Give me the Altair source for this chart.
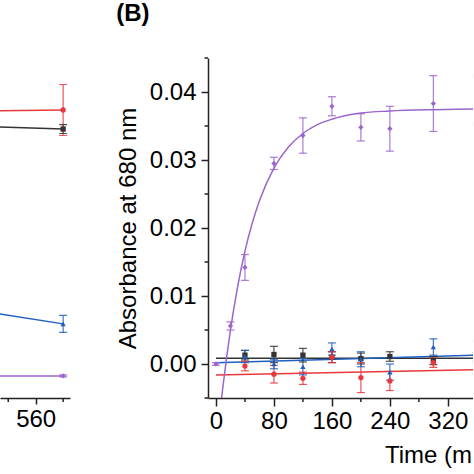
import altair as alt
import pandas as pd

FONT = "Liberation Sans"

# ---------------- series styling ----------------
series_names = ["black", "red", "blue", "purple"]
series_colors = ["#333333", "#E8383D", "#1F5FBF", "#9A66CC"]
series_shapes = ["square", "circle", "triangle-up", "diamond"]

# ---------------- Panel B data ----------------
b_times_purple = [0, 20, 40, 80, 120, 160, 200, 240, 300, 360]
b_purple = [0.0000, 0.0056, 0.0142, 0.0295, 0.0336, 0.0379, 0.0348, 0.0346, 0.0383, 0.0388]
b_purple_err = [0.0002, 0.0006, 0.0019, 0.0009, 0.0026, 0.0014, 0.0020, 0.0033, 0.0041, 0.0035]

b_times = [40, 80, 120, 160, 200, 240, 300, 360]
b_black = [0.0013, 0.0014, 0.0013, 0.0010, 0.0008, 0.0011, 0.0005, 0.0009]
b_black_err = [0.0007, 0.0012, 0.0010, 0.0008, 0.0008, 0.0007, 0.0006, 0.0008]
b_blue = [0.0011, 0.0000, -0.0004, 0.0022, 0.0007, -0.0012, 0.0025, 0.0022]
b_blue_err = [0.0009, 0.0007, 0.0012, 0.0009, 0.0011, 0.0012, 0.0012, 0.0012]
b_red = [-0.0003, -0.0015, -0.0021, 0.0010, -0.0020, -0.0025, 0.0002, -0.0005]
b_red_err = [0.0007, 0.0013, 0.0009, 0.0008, 0.0022, 0.0014, 0.0007, 0.0010]

# fitted curves
purple_fit_t = [7.7, 10, 15, 20, 30, 40, 50, 60, 80, 100, 120, 140, 160, 200, 240, 300, 360, 420]
purple_fit_v = [-0.0050, -0.0030, 0.0012, 0.0050, 0.0114, 0.0166, 0.0207, 0.0240, 0.0288, 0.0319,
                0.0339, 0.0352, 0.0360, 0.0369, 0.0372, 0.0374, 0.0375, 0.0375]
lin_fit_t = [0, 420]
black_fit_v = [0.00085, 0.00085]
blue_fit_v = [0.0002, 0.0015]
red_fit_v = [-0.0016, -0.0007]

b_major_x = [0, 80, 160, 240, 320]
b_minor_x = [40, 120, 200, 280]
b_major_y = [0.00, 0.01, 0.02, 0.03, 0.04]
b_minor_y = [-0.005, 0.005, 0.015, 0.025, 0.035, 0.045]
x_title = ["Time (min)"]

# ---------------- Panel A data (visible right part) ----------------
a_times = [480, 600]
a_black = [0.799, 0.791]
a_black_err = [0.010, 0.013]
a_red = [0.844, 0.847]
a_red_err = [0.030, 0.075]
a_blue = [0.256, 0.218]
a_blue_err = [0.020, 0.025]
a_purple = [0.065, 0.065]
a_purple_err = [0.003, 0.003]
a_major_x = [560]
a_minor_x = [520, 600]


def long_df(times, vals, errs, name):
    return pd.DataFrame({
        "t": times, "v": vals,
        "lo": [v - e for v, e in zip(vals, errs)],
        "hi": [v + e for v, e in zip(vals, errs)],
        "s": [name] * len(times),
    })


color_enc = alt.Color("s:N", scale=alt.Scale(domain=series_names, range=series_colors), legend=None)
shape_enc = alt.Shape("s:N", scale=alt.Scale(domain=series_names, range=series_shapes), legend=None)

PH = 340  # plot height
BW = 265  # panel B plot width (runs to the window edge)
FS = 24   # axis font size

# ---------------- Panel B ----------------
b_pts = pd.concat([
    long_df(b_times, b_black, b_black_err, "black"),
    long_df(b_times, b_red, b_red_err, "red"),
    long_df(b_times, b_blue, b_blue_err, "blue"),
    long_df(b_times_purple, b_purple, b_purple_err, "purple"),
])
b_fit = pd.concat([
    pd.DataFrame({"t": lin_fit_t, "v": black_fit_v, "s": "black"}),
    pd.DataFrame({"t": lin_fit_t, "v": red_fit_v, "s": "red"}),
    pd.DataFrame({"t": lin_fit_t, "v": blue_fit_v, "s": "blue"}),
    pd.DataFrame({"t": purple_fit_t, "v": purple_fit_v, "s": "purple"}),
])

b_xscale = alt.Scale(domain=[-11, -11 + BW / 0.7246], nice=False, zero=False)
b_yscale = alt.Scale(domain=[-0.005, 0.045], nice=False, zero=False)
b_xaxis = alt.Axis(values=b_major_x, format="d", title=None, tickSize=8,
                   labelPadding=3, labelFlush=False, labelOverlap=False)
b_yaxis = alt.Axis(values=b_major_y, format=".2f", title="Absorbance at 680 nm", tickSize=7,
                   labelPadding=5, titlePadding=9, labelOverlap=False)


def bx(f):
    return alt.X(f"{f}:Q", scale=b_xscale, axis=b_xaxis)


def by(f):
    return alt.Y(f"{f}:Q", scale=b_yscale, axis=b_yaxis)


b_fit_lines = alt.Chart(b_fit).mark_line(strokeWidth=1.5, interpolate="monotone", clip=True).encode(
    x=bx("t"), y=by("v"), color=color_enc, detail="s:N")
b_err = alt.Chart(b_pts).mark_rule(strokeWidth=1.2, opacity=0.85, clip=True).encode(
    x=bx("t"), y=by("lo"), y2="hi", color=color_enc)
b_cap_lo = alt.Chart(b_pts).mark_tick(orient="horizontal", size=8, thickness=1.2, opacity=0.85, clip=True).encode(
    x=bx("t"), y=by("lo"), color=color_enc)
b_cap_hi = alt.Chart(b_pts).mark_tick(orient="horizontal", size=8, thickness=1.2, opacity=0.85, clip=True).encode(
    x=bx("t"), y=by("hi"), color=color_enc)
b_points = alt.Chart(b_pts).mark_point(filled=True, opacity=1, size=28, clip=True).encode(
    x=bx("t"), y=by("v"), color=color_enc, shape=shape_enc)
b_minx = alt.Chart(pd.DataFrame({"t": b_minor_x})).mark_rule(color="#222222", strokeWidth=1.5).encode(
    x=bx("t"), y=alt.value(PH), y2=alt.value(PH + 4))
b_miny = alt.Chart(pd.DataFrame({"v": b_minor_y})).mark_rule(color="#222222", strokeWidth=1.5).encode(
    y=by("v"), x=alt.value(0), x2=alt.value(-3.5))
# x-axis title, cut by the right edge of the figure as in the original
b_xtitle = alt.Chart(pd.DataFrame({"label": x_title})).mark_text(
    font=FONT, fontSize=FS, align="left", baseline="alphabetic", color="#000000",
    limit=89, ellipsis="\u200b").encode(
    text="label:N", x=alt.value(177), y=alt.value(PH + 65))

panel_b = alt.layer(b_fit_lines, b_err, b_cap_lo, b_cap_hi, b_points, b_minx, b_miny, b_xtitle).properties(
    width=BW, height=PH,
    title=alt.TitleParams("(B)", anchor="start", frame="bounds", fontSize=24, fontWeight="bold",
                          font=FONT, baseline="alphabetic", offset=12, color="#000000"),
)

# ---------------- Panel A ----------------
a_pts = pd.concat([
    long_df(a_times, a_black, a_black_err, "black"),
    long_df(a_times, a_red, a_red_err, "red"),
    long_df(a_times, a_blue, a_blue_err, "blue"),
    long_df(a_times, a_purple, a_purple_err, "purple"),
])

a_xscale = alt.Scale(domain=[508, 610], nice=False, zero=False)
a_yscale = alt.Scale(domain=[0, 1], nice=False, zero=False)
a_xaxis = alt.Axis(values=a_major_x, format="d", title=None, tickSize=6,
                   labelPadding=3, labelFlush=False, labelOverlap=False)


def ax(f):
    return alt.X(f"{f}:Q", scale=a_xscale, axis=a_xaxis)


def ay(f):
    return alt.Y(f"{f}:Q", scale=a_yscale, axis=None)


a_lines = alt.Chart(a_pts).mark_line(strokeWidth=1.5, clip=True).encode(
    x=ax("t"), y=ay("v"), color=color_enc, detail="s:N")
a_err = alt.Chart(a_pts).mark_rule(strokeWidth=1.2, opacity=0.85, clip=True).encode(
    x=ax("t"), y=ay("lo"), y2="hi", color=color_enc)
a_cap_lo = alt.Chart(a_pts).mark_tick(orient="horizontal", size=8, thickness=1.2, opacity=0.85, clip=True).encode(
    x=ax("t"), y=ay("lo"), color=color_enc)
a_cap_hi = alt.Chart(a_pts).mark_tick(orient="horizontal", size=8, thickness=1.2, opacity=0.85, clip=True).encode(
    x=ax("t"), y=ay("hi"), color=color_enc)
a_points = alt.Chart(a_pts).mark_point(filled=True, opacity=1, size=28, clip=True).encode(
    x=ax("t"), y=ay("v"), color=color_enc, shape=shape_enc)
a_minx = alt.Chart(pd.DataFrame({"t": a_minor_x})).mark_rule(color="#222222", strokeWidth=1.5).encode(
    x=ax("t"), y=alt.value(PH), y2=alt.value(PH + 4))

panel_a = alt.layer(a_lines, a_err, a_cap_lo, a_cap_hi, a_points, a_minx).properties(width=70, height=PH)

chart = alt.hconcat(panel_a, panel_b, spacing=138, bounds="flush").properties(
    padding={"left": 0, "top": 2, "right": 0, "bottom": 0}
).configure_view(stroke=None).configure_axis(
    labelFont=FONT, titleFont=FONT, labelFontSize=FS, titleFontSize=FS,
    labelColor="#000000", titleColor="#000000", titleFontWeight="normal",
    domainColor="#222222", tickColor="#222222", domainWidth=1.5, tickWidth=1.5, grid=False,
)

chart.save("out.html", embed_options={"renderer": "svg", "actions": False})
